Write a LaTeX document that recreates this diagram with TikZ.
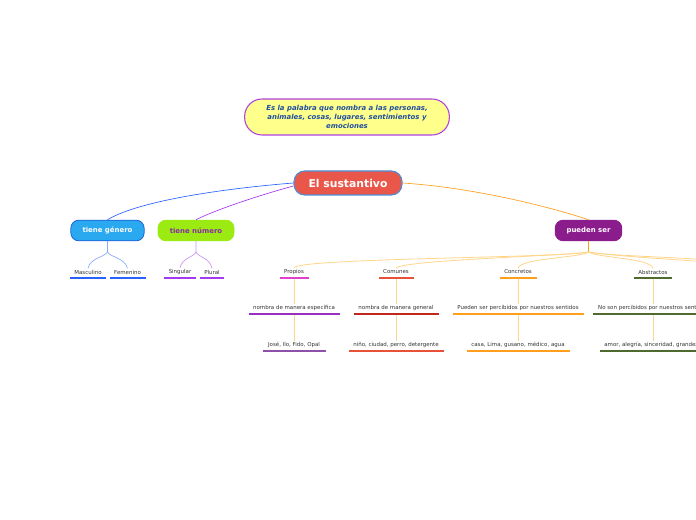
\documentclass[tikz,border=0pt]{standalone}
\usepackage{fontspec}
\setmainfont{DejaVu Sans}
\definecolor{sustred}{HTML}{E9574A}
\definecolor{sustborder}{HTML}{4A8FD9}
\definecolor{genfill}{HTML}{2AA8F0}
\definecolor{genborder}{HTML}{1E5FD8}
\definecolor{numfill}{HTML}{9BEA12}
\definecolor{numtext}{HTML}{8A2BA8}
\definecolor{puedfill}{HTML}{8B1C8C}
\definecolor{topfill}{HTML}{FFFF8C}
\definecolor{topborder}{HTML}{B040E0}
\definecolor{toptext}{HTML}{1F4E9E}
\definecolor{lblue}{HTML}{2962FF}
\definecolor{lpurple}{HTML}{A43BF0}
\definecolor{lorange}{HTML}{FF9F1C}
\definecolor{lightor}{HTML}{FFD58A}
\definecolor{magent}{HTML}{E040D0}
\definecolor{redu}{HTML}{E8503A}
\definecolor{darkred}{HTML}{C0281E}
\definecolor{purpu}{HTML}{9B30C0}
\definecolor{violetu}{HTML}{8E50A8}
\definecolor{greenu}{HTML}{4E6A2E}
\definecolor{leaftext}{HTML}{333333}
\begin{document}
\begin{tikzpicture}[x=0.75pt,y=-0.75pt,
  mainbox/.style={rounded corners=8pt,draw,line width=0.8pt,align=center,font=\fontsize{8.1}{9}\selectfont\bfseries,text=white,minimum height=18pt,inner sep=1pt},
  subbox/.style={rounded corners=6pt,draw,line width=0.6pt,align=center,font=\fontsize{5.2}{6}\selectfont\bfseries,minimum height=15.5pt,inner sep=1pt},
  leaf/.style={font=\fontsize{4.1}{5}\selectfont,text=leaftext,inner sep=1pt},
  uline/.style={line width=1pt},
  conn/.style={line width=0.5pt},
  thin/.style={lightor,line width=0.6pt}]
\useasboundingbox (0,0) rectangle (696,520);
% top definition box
\node[draw=topborder,fill=topfill,line width=0.8pt,rounded corners=13pt,minimum width=153.5pt,minimum height=27pt,inner sep=1pt,align=center,text=toptext,font=\fontsize{5.2}{6.8}\selectfont\bfseries\itshape] (def) at (347,117) {Es la palabra que nombra a las personas,\\animales, cosas, lugares, sentimientos y\\emociones};
% main
\node[mainbox,fill=sustred,draw=sustborder,minimum width=81pt] (sust) at (348,183) {El sustantivo};
\node[subbox,fill=genfill,draw=genborder,text=white,minimum width=55pt] (gen) at (107.5,230.5) {tiene género};
\node[subbox,fill=numfill,draw=numfill,text=numtext,minimum width=57pt] (num) at (196,230.5) {tiene número};
\node[subbox,fill=puedfill,draw=puedfill,text=white,minimum width=50pt] (pued) at (588.5,230.5) {pueden ser};
% main connectors
\draw[conn,lblue] (sust.west) .. controls (230,188) and (140,200) .. (gen.north);
\draw[conn,lpurple] (sust.west) ++(0,3) .. controls (260,195) and (215,210) .. (num.north);
\draw[conn,lorange] (sust.east) .. controls (480,188) and (560,210) .. (pued.north);
% genero leaves
\node[leaf] (masc) at (88,272) {Masculino};
\node[leaf] (fem) at (127.5,272) {Femenino};
\draw[uline,lblue] (70,278) -- (106,278);
\draw[uline,lblue] (110,278) -- (146,278);
\coordinate (gj) at (107.5,252);
\draw[conn,lblue!55] (gen.south) -- (gj) .. controls (105,257) and (90,258) .. (masc.north);
\draw[conn,lblue!55] (gj) .. controls (110,257) and (125,258) .. (fem.north);
% numero leaves
\node[leaf] (sing) at (180,272) {Singular};
\node[leaf] (plur) at (212,272) {Plural};
\draw[uline,lpurple] (164,278) -- (196,278);
\draw[uline,lpurple] (200,278) -- (224,278);
\coordinate (nj) at (196,252);
\draw[conn,lpurple!55] (num.south) -- (nj) .. controls (194,257) and (182,258) .. (sing.north);
\draw[conn,lpurple!55] (nj) .. controls (198,257) and (210,258) .. (plur.north);
% pueden ser children
\node[leaf] (prop) at (294,272) {Propios};
\node[leaf] (com) at (396,272) {Comunes};
\node[leaf] (conc) at (518,272) {Concretos};
\node[leaf] (abs) at (653,272) {Abstractos};
\coordinate (extra1) at (740,262);
\coordinate (extra2) at (760,266);
\draw[uline,magent] (280,278) -- (309,278);
\draw[uline,redu] (379,278) -- (414,278);
\draw[uline,lorange] (500,278) -- (537,278);
\draw[uline,greenu] (634,278) -- (672,278);
\coordinate (pj) at (588.5,252);
\draw[conn,lorange,line width=0.8pt] (pued.south) -- (pj);
\begin{scope}[lightor,line width=0.6pt]
\draw (pj) .. controls (560,258) and (300,258) .. (prop.north);
\draw (pj) .. controls (565,256) and (400,260) .. (com.north);
\draw (pj) .. controls (580,258) and (520,258) .. (conc.north);
\draw (pj) .. controls (598,258) and (650,258) .. (abs.north);
\draw (pj) .. controls (610,256) and (680,257) .. (extra1);
\draw (pj) .. controls (620,257) and (690,260) .. (extra2);
\end{scope}
% second row
\node[leaf] (prop2) at (294,308) {nombra de manera específica};
\node[leaf] (com2) at (396,308) {nombra de manera general};
\node[leaf] (conc2) at (518,308) {Pueden ser percibidos por nuestros sentidos};
\node[leaf] (abs2) at (653,308) {No son percibidos por nuestros sentidos};
\draw[uline,purpu] (249,314) -- (340,314);
\draw[uline,darkred] (354,314) -- (439,314);
\draw[uline,lorange] (453,314) -- (584,314);
\draw[uline,greenu] (593,314) -- (720,314);
% third row
\node[leaf] (prop3) at (294,345) {José, Ilo, Fido, Opal};
\node[leaf] (com3) at (396,345) {niño, ciudad, perro, detergente};
\node[leaf] (conc3) at (518,345) {casa, Lima, gusano, médico, agua};
\node[leaf] (abs3) at (653,345) {amor, alegría, sinceridad, grandeza};
\draw[uline,violetu] (263,351) -- (326,351);
\draw[uline,redu] (349,351) -- (444,351);
\draw[uline,lorange] (467,351) -- (570,351);
\draw[uline,greenu] (600,351) -- (720,351);
% vertical connectors
\draw[thin] (prop.south) ++(0,3) -- (prop2.north);
\draw[thin] (com.south) ++(0,3) -- (com2.north);
\draw[thin] (conc.south) ++(0,3) -- (conc2.north);
\draw[thin] (abs.south) ++(0,3) -- (abs2.north);
\draw[thin] (prop2.south) ++(0,3) -- (prop3.north);
\draw[thin] (com2.south) ++(0,3) -- (com3.north);
\draw[thin] (conc2.south) ++(0,3) -- (conc3.north);
\draw[thin] (abs2.south) ++(0,3) -- (abs3.north);
\end{tikzpicture}
\end{document}
